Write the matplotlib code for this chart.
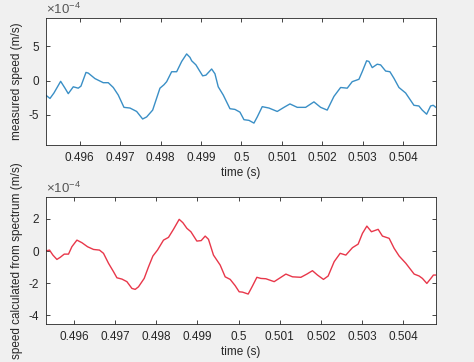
import numpy as np
import matplotlib
matplotlib.use('Agg')
import matplotlib.pyplot as plt

plt.rcParams['font.family'] = ['Liberation Sans', 'DejaVu Sans']
plt.rcParams['mathtext.fontset'] = 'custom'
plt.rcParams['mathtext.rm'] = 'Liberation Sans'

# measured speed (x1e-4 m/s)
t_meas = [0.495159, 0.495266, 0.495364, 0.495530, 0.495637, 0.495718, 0.495842,
          0.495965, 0.496032, 0.496156, 0.496213, 0.496378, 0.496583, 0.496707,
          0.496831, 0.496954, 0.497095, 0.497244, 0.497409, 0.497557, 0.497656,
          0.497805, 0.497985, 0.498084, 0.498151, 0.498274, 0.498398, 0.498522,
          0.498645, 0.498727, 0.498769, 0.498875, 0.498957, 0.499041, 0.499122,
          0.499263, 0.499345, 0.499426, 0.499550, 0.499716, 0.499839, 0.499963,
          0.500062, 0.500186, 0.500309, 0.500391, 0.500514, 0.500680, 0.500885,
          0.501051, 0.501199, 0.501380, 0.501587, 0.501792, 0.501958, 0.502121,
          0.502287, 0.502452, 0.502616, 0.502739, 0.502905, 0.502986, 0.503095,
          0.503152, 0.503234, 0.503357, 0.503441, 0.503565, 0.503671, 0.503770,
          0.503894, 0.504059, 0.504265, 0.504388, 0.504470, 0.504579, 0.504677,
          0.504742, 0.504808]
v_meas = [-2.1, -2.6, -1.8, -0.1, -1.1, -1.9, -0.9,
          -1.1, -0.8, 1.2, 1.1, 0.3, -0.3, -0.3,
          -1.0, -2.1, -3.9, -4.0, -4.5, -5.6, -5.3,
          -4.3, -1.1, -0.6, -0.15, 1.3, 1.3, 2.8,
          3.9, 3.4, 2.9, 2.3, 1.5, 0.7, 0.8,
          1.7, 1.0, -0.9, -2.1, -4.1, -4.2, -4.6,
          -5.7, -5.8, -6.2, -5.3, -3.8, -4.0, -4.5,
          -3.9, -3.4, -3.9, -3.9, -3.1, -3.9, -4.3,
          -2.3, -1.0, -1.1, -0.15, 0.2, 1.3, 2.9,
          2.8, 1.9, 2.4, 2.3, 1.4, 1.3, 0.35,
          -1.0, -1.8, -3.6, -3.7, -4.3, -4.9, -3.7,
          -3.6, -3.9]

# speed calculated from spectrum (x1e-4 m/s)
t_spec = [0.495335, 0.495408, 0.495490, 0.495587, 0.495667, 0.495765, 0.495869,
          0.495951, 0.496073, 0.496194, 0.496330, 0.496476, 0.496621, 0.496718,
          0.496840, 0.496961, 0.497044, 0.497165, 0.497286, 0.497408, 0.497488,
          0.497568, 0.497706, 0.497811, 0.497917, 0.498029, 0.498175, 0.498296,
          0.498417, 0.498556, 0.498646, 0.498743, 0.498840, 0.498985, 0.499090,
          0.499187, 0.499267, 0.499388, 0.499551, 0.499672, 0.499794, 0.499915,
          0.500012, 0.500092, 0.500231, 0.500335, 0.500442, 0.500539, 0.500660,
          0.500862, 0.500983, 0.501146, 0.501306, 0.501510, 0.501655, 0.501791,
          0.501913, 0.502058, 0.502172, 0.502318, 0.502464, 0.502602, 0.502762,
          0.502900, 0.503005, 0.503112, 0.503223, 0.503386, 0.503490, 0.503653,
          0.503774, 0.503896, 0.504058, 0.504260, 0.504381, 0.504461, 0.504568,
          0.504665, 0.504728, 0.504794]
v_spec = [0.02, 0.06, -0.25, -0.52, -0.39, -0.19, -0.19,
          0.27, 0.68, 0.52, 0.27, 0.1, 0.06, -0.14,
          -0.76, -1.28, -1.66, -1.74, -1.9, -2.32, -2.38,
          -2.22, -1.7, -0.98, -0.31, 0.06, 0.68, 0.85,
          1.35, 1.97, 1.76, 1.41, 1.2, 0.62, 0.65,
          0.93, 0.73, -0.25, -0.87, -1.6, -1.76, -2.15,
          -2.53, -2.55, -2.67, -2.17, -1.63, -1.7, -1.72,
          -1.9, -1.7, -1.43, -1.6, -1.63, -1.43, -1.22,
          -1.49, -1.76, -1.55, -0.66, -0.14, -0.25, 0.21,
          0.43, 1.1, 1.55, 1.2, 1.35, 0.93, 0.79,
          0.17, -0.31, -0.76, -1.43, -1.55, -1.7, -2.01,
          -1.7, -1.49, -1.49]

x_ticks = [0.496, 0.497, 0.498, 0.499, 0.5, 0.501, 0.502, 0.503, 0.504]
x_labels = ['0.496', '0.497', '0.498', '0.499', '0.5', '0.501', '0.502', '0.503', '0.504']

fig = plt.figure(figsize=(4.74, 3.62), dpi=100, facecolor='#f0f0f0')
ax1 = fig.add_axes([0.0964, 0.5994, 0.8234, 0.350])
ax2 = fig.add_axes([0.0977, 0.105, 0.8221, 0.350])

txt = '#262626'
for ax in (ax1, ax2):
    ax.set_facecolor('white')
    ax.set_xticks(x_ticks)
    ax.set_xticklabels(x_labels)
    ax.tick_params(direction='in', length=3, width=0.6, labelsize=8.5, colors=txt,
                   top=True, right=True, pad=5)
    for s in ax.spines.values():
        s.set_linewidth(0.6)
        s.set_color(txt)
    ax.set_xlabel('time (s)', fontsize=8.5, color=txt, labelpad=2)

# 위 그래프 — 측정 속도
ax1.plot(t_meas, np.array(v_meas) * 1e-4, color='#3a8fc6', linewidth=1.0)
ax1.set_xlim(0.49516, 0.50481)
ax1.set_ylim(-9.4e-4, 9.1e-4)
ax1.set_yticks([-5e-4, 0, 5e-4])
ax1.set_yticklabels(['-5', '0', '5'])
ax1.set_ylabel('measured speed (m/s)', fontsize=8.5, color=txt, labelpad=4)
ax1.text(0.0, 1.01, r'$\times\mathregular{10^{-4}}$', transform=ax1.transAxes,
         fontsize=9.5, color='#555555', va='bottom', ha='left')

# 아래 그래프 — 스펙트럼으로 계산한 속도
ax2.plot(t_spec, np.array(v_spec) * 1e-4, color='#e8374a', linewidth=1.0)
ax2.set_xlim(0.49533, 0.50479)
ax2.set_ylim(-4.53e-4, 3.34e-4)
ax2.set_yticks([-4e-4, -2e-4, 0, 2e-4])
ax2.set_yticklabels(['-4', '-2', '0', '2'])
ax2.set_ylabel('speed calculated from spectrum (m/s)', fontsize=8.5, color=txt, labelpad=4)
ax2.text(0.0, 1.01, r'$\times\mathregular{10^{-4}}$', transform=ax2.transAxes,
         fontsize=9.5, color='#555555', va='bottom', ha='left')

plt.savefig('out.png', dpi=100, facecolor=fig.get_facecolor())
